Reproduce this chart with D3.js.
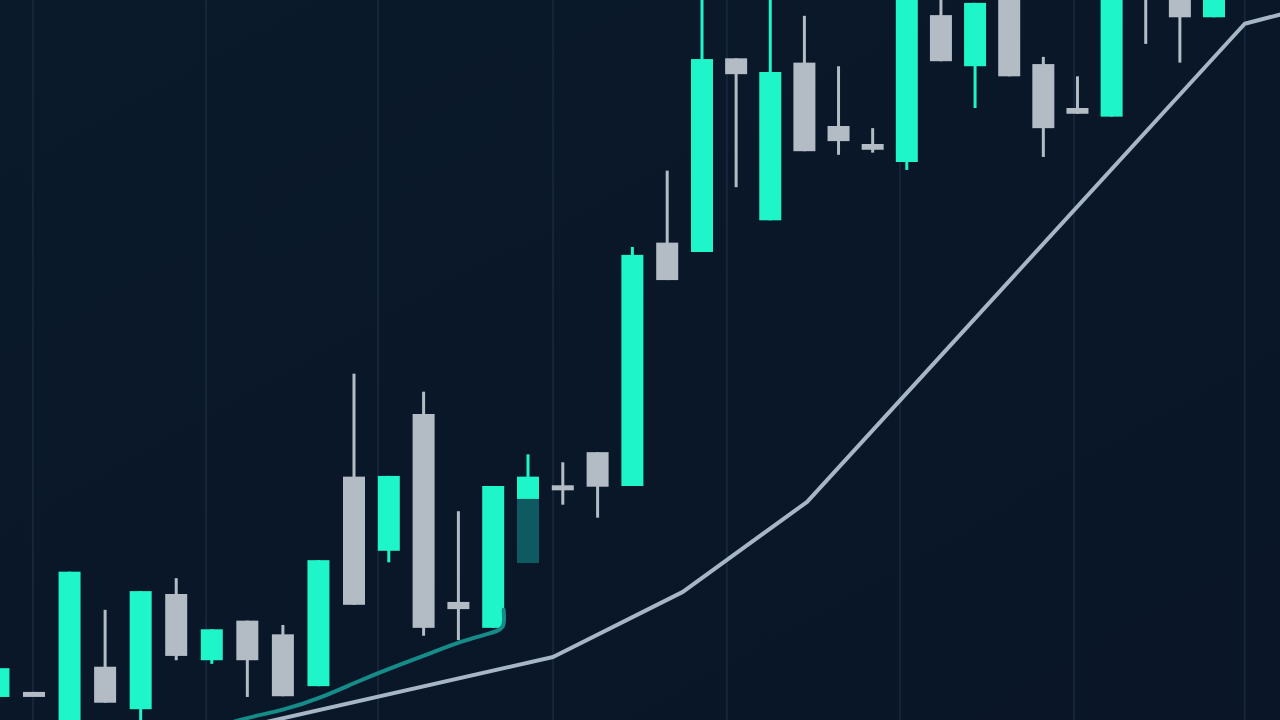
<!DOCTYPE html>
<html>
<head>
<meta charset="utf-8">
<script src="https://cdn.jsdelivr.net/npm/d3@7"></script>
<style>
  html, body { margin: 0; padding: 0; background: #0a1628; overflow: hidden; }
  svg { display: block; }
</style>
</head>
<body>
<svg id="chart" width="1280" height="720"></svg>
<script>
// ---- data (candle index, open, high, low, close) ----
const candleIndex = d3.range(0, 36);
const opens  = [103.2,103.9, 98.6,107.4,101.5,117.5,108.3,113.8,111.9,104.7,133.8,123.5,142.5,116.4,112.8,130.7,132.6,137.2,132.5,166.3,165.0,191.9,169.4,191.3,182.5,180.0,177.5,197.9,190.8,202.0,191.1,185.0,183.8,206.0,203.0,197.6];
const highs  = [108.3,103.9,120.6,115.3,117.9,119.7,112.6,113.8,113.2,122.2,148.1,133.9,145.6,129.0,132.5,136.9,135.8,137.2,165.7,176.3,203.0,191.9,203.0,197.8,190.8,182.2,203.0,201.0,199.6,203.0,192.1,189.4,203.0,207.0,204.0,204.0];
const lows   = [103.2,103.8, 97.0,102.4, 99.5,108.3,107.8,103.2,103.3,104.7,116.0,121.9,111.7,111.1,112.8,130.7,129.9,128.1,132.5,161.1,165.0,174.0,169.4,179.0,178.5,178.8,176.4,191.5,185.0,189.4,178.2,184.2,183.8,193.9,191.3,197.6];
const closes = [107.2,103.8,120.6,102.4,117.9,108.9,112.6,108.3,103.3,122.2,116.0,133.9,112.8,115.4,132.5,133.8,131.9,132.4,164.6,161.1,191.8,189.7,190.0,179.0,180.4,179.2,201.5,191.5,199.6,189.4,182.2,184.2,202.0,204.0,197.6,203.0];

// faded (shadow) body under candle 15
const ghostIndex = [15];
const ghostTop = [130.7];
const ghostBottom = [121.8];

// moving averages: [candle index position, value]
const slowMaIdx = [6.8, 15.72, 19.45, 23.08, 35.9, 37.2];
const slowMaVal = [98.9, 108.75, 117.8, 130.3, 196.7, 198.3];
const fastMaIdx = [5.6, 6.8, 8.0, 9.04, 10.17, 11.32, 12.27, 13.05, 13.82, 14.15, 14.33, 14.3];
const fastMaVal = [98.0, 100.2, 101.3, 103.0, 105.5, 107.7, 109.4, 110.9, 111.9, 112.4, 113.0, 115.3];

// vertical time grid positions (in candle index units)
const gridTicks = [0.97, 5.84, 10.69, 15.72, 20.73, 25.8, 30.9, 35.9];

// ---- drawing ----
const W = 1280, H = 720;
const svg = d3.select("#chart");

const x = d3.scaleLinear().domain([1, 10, 20, 35]).range([34, 354, 702, 1214]);
const y = d3.scaleLinear().domain([100, 200]).range([720, 0]);

const UP = "#1ef5c8";
const DOWN = "#b3bcc5";
const bodyW = 22;

// background gradient
const defs = svg.append("defs");
const bg = defs.append("linearGradient").attr("id", "bg").attr("x1", 0).attr("y1", 0).attr("x2", 1).attr("y2", 1);
bg.append("stop").attr("offset", "0%").attr("stop-color", "#0b1a2a");
bg.append("stop").attr("offset", "50%").attr("stop-color", "#091729");
bg.append("stop").attr("offset", "100%").attr("stop-color", "#0a1628");
svg.append("rect").attr("width", W).attr("height", H).attr("fill", "url(#bg)");

// grid
svg.append("g").selectAll("line").data(gridTicks).join("line")
  .attr("x1", d => x(d)).attr("x2", d => x(d))
  .attr("y1", 0).attr("y2", H)
  .attr("stroke", "#15253b").attr("stroke-width", 2);

// slow MA (grey)
const line = d3.line().x(d => x(d[0])).y(d => y(d[1]));
svg.append("path")
  .datum(d3.zip(slowMaIdx, slowMaVal))
  .attr("d", line).attr("fill", "none")
  .attr("stroke", "#a6b6c4").attr("stroke-width", 4).attr("stroke-linejoin", "round");

// candles
const data = candleIndex.map((i, k) => ({ i, o: opens[k], h: highs[k], l: lows[k], c: closes[k] }));
const g = svg.append("g");
const cg = g.selectAll("g").data(data).join("g");
cg.append("line")
  .attr("x1", d => x(d.i)).attr("x2", d => x(d.i))
  .attr("y1", d => y(d.h)).attr("y2", d => y(d.l))
  .attr("stroke", d => d.c >= d.o ? UP : DOWN).attr("stroke-width", 3);
cg.append("rect")
  .attr("x", d => x(d.i) - bodyW / 2).attr("width", bodyW)
  .attr("y", d => y(Math.max(d.o, d.c)))
  .attr("height", d => Math.max(5, Math.abs(y(d.o) - y(d.c))))
  .attr("fill", d => d.c >= d.o ? UP : DOWN);

// ghost body
svg.append("g").selectAll("rect").data(d3.zip(ghostIndex, ghostTop, ghostBottom)).join("rect")
  .attr("x", d => x(d[0]) - bodyW / 2).attr("width", bodyW)
  .attr("y", d => y(d[1])).attr("height", d => y(d[2]) - y(d[1]))
  .attr("fill", "#0f5a60");

// fast MA (teal)
svg.append("path")
  .datum(d3.zip(fastMaIdx, fastMaVal))
  .attr("d", d3.line().x(d => x(d[0])).y(d => y(d[1])).curve(d3.curveBasis))
  .attr("fill", "none")
  .attr("stroke", "#168c88").attr("stroke-width", 4).attr("stroke-linecap", "round");
</script>
</body>
</html>
